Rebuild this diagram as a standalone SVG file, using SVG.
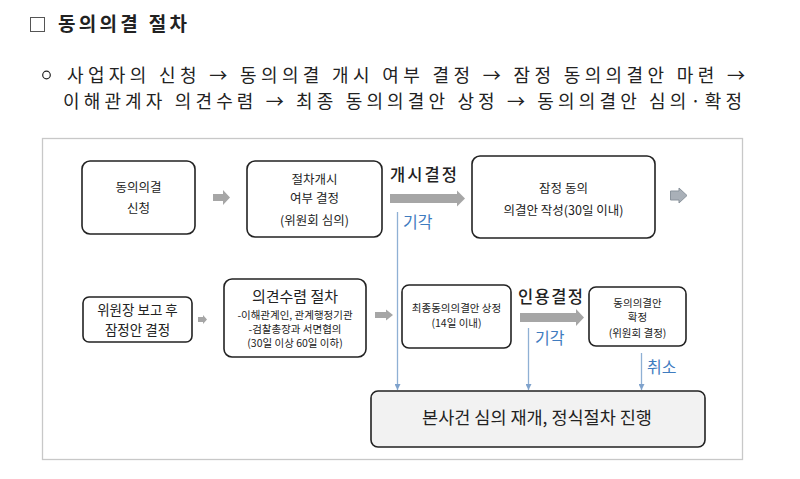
<svg xmlns="http://www.w3.org/2000/svg" width="800" height="479" viewBox="0 0 800 479">
<defs>
<style>
text{font-family:"Noto Sans CJK KR","Noto Sans",sans-serif;fill:#222;}
.node{fill:#fff;stroke:#222;stroke-width:1.6;}
.t13{font-size:12.5px;text-anchor:middle;}
.t11{font-size:10.5px;text-anchor:middle;}
.lbl{font-size:16.5px;font-weight:500;}
.blue{font-size:16px;fill:#3f7cbf;}
.vline{stroke:#8fb0d4;stroke-width:1.3;fill:none;}
.garrow{fill:#a6a6a6;}
</style>
<marker id="ah" viewBox="0 0 10 10" refX="10" refY="5" markerWidth="6" markerHeight="6" orient="auto" markerUnits="userSpaceOnUse">
<path d="M0,0 L10,5 L0,10 z" fill="#7fa2cc"/>
</marker>
</defs>
<rect width="800" height="479" fill="#fff"/>
<g id="header">
<rect x="30.5" y="17.5" width="14" height="14" fill="#fff" stroke="#555" stroke-width="1"/>
<text x="58" y="31" style="font-size:19px;font-weight:bold;" textLength="129" lengthAdjust="spacing">동의의결 절차</text>
<circle cx="46.5" cy="75" r="3.8" fill="none" stroke="#222" stroke-width="1.2"/>
<text x="67" y="82" style="font-size:18px;" textLength="678" lengthAdjust="spacing">사업자의 신청 → 동의의결 개시 여부 결정 → 잠정 동의의결안 마련 →</text>
<text x="63" y="108" style="font-size:18px;" textLength="679" lengthAdjust="spacing">이해관계자 의견수렴 → 최종 동의의결안 상정 → 동의의결안 심의·확정</text>
</g>
<rect id="frame" x="42.5" y="138.5" width="700" height="321" fill="#fff" stroke="#c8c8c8" stroke-width="1.3"/>
<g id="connectors">
<path class="garrow" d="M213,194 L223,194 L223,190 L230,197.5 L223,205 L223,201 L213,201 z"/>
<path class="garrow" d="M390,194 L457,194 L457,190.5 L465,198.5 L457,206.5 L457,203 L390,203 z"/>
<path d="M670.5,191 L679,191 L679,188 L687,195.5 L679,203 L679,200 L670.5,200 z" fill="#a9b0b8" stroke="#8a939c" stroke-width="1"/>
<path class="garrow" d="M198,317 L203,317 L203,315 L207,319.5 L203,324 L203,322 L198,322 z"/>
<path class="garrow" d="M375,312 L386,312 L386,309.5 L393,315 L386,320.5 L386,318 L375,318 z"/>
<path class="garrow" d="M520,313 L576,313 L576,309 L584,317.5 L576,326 L576,322 L520,322 z"/>
<text x="390" y="181" class="lbl" textLength="67" lengthAdjust="spacing">개시결정</text>
<text x="518" y="303" class="lbl" textLength="65" lengthAdjust="spacing">인용결정</text>
<text x="403" y="228" class="blue">기각</text>
<text x="535" y="344" class="blue">기각</text>
<text x="647" y="373" class="blue">취소</text>
<line class="vline" x1="397.5" y1="212" x2="397.5" y2="390" marker-end="url(#ah)"/>
<line class="vline" x1="528.5" y1="328" x2="528.5" y2="390" marker-end="url(#ah)"/>
<line class="vline" x1="641.5" y1="353" x2="641.5" y2="390" marker-end="url(#ah)"/>
</g>
<g id="n1">
<rect class="node" x="82" y="161" width="113" height="73" rx="8"/>
<text x="138.5" y="192" class="t13">동의의결</text>
<text x="138.5" y="213" class="t13">신청</text>
</g>
<g id="n2">
<rect class="node" x="247" y="161" width="135" height="76" rx="8"/>
<text x="314.5" y="184" class="t13">절차개시</text>
<text x="314.5" y="203" class="t13">여부 결정</text>
<text x="314.5" y="225" class="t13">(위원회 심의)</text>
</g>
<g id="n3">
<rect class="node" x="472" y="156" width="183" height="82" rx="8"/>
<text x="563.5" y="193" class="t13">잠정 동의</text>
<text x="563.5" y="215" class="t13">의결안 작성(30일 이내)</text>
</g>
<g id="n4">
<rect class="node" x="83" y="297" width="109" height="45" rx="6"/>
<text x="137.5" y="315" style="font-size:13.5px;text-anchor:middle;">위원장 보고 후</text>
<text x="137.5" y="335" style="font-size:13.5px;text-anchor:middle;">잠정안 결정</text>
</g>
<g id="n5">
<rect class="node" x="224" y="279" width="142" height="78" rx="8"/>
<text x="295" y="302" style="font-size:15px;text-anchor:middle;">의견수렴 절차</text>
<text x="295" y="319" class="t11">-이해관계인, 관계행정기관</text>
<text x="295" y="333" class="t11">-검찰총장과 서면협의</text>
<text x="295" y="347" class="t11">(30일 이상 60일 이하)</text>
</g>
<g id="n6">
<rect class="node" x="402" y="285" width="109" height="63" rx="7"/>
<text x="456.5" y="312" class="t11">최종동의의결안 상정</text>
<text x="456.5" y="327" class="t11">(14일 이내)</text>
</g>
<g id="n7">
<rect class="node" x="589" y="287" width="97" height="59" rx="7"/>
<text x="637.5" y="307" class="t11">동의의결안</text>
<text x="637.5" y="321" class="t11">확정</text>
<text x="637.5" y="337" class="t11">(위원회 결정)</text>
</g>
<g id="n8">
<rect x="371" y="391" width="334" height="56" rx="7" fill="#f2f2f2" stroke="#222" stroke-width="1.6"/>
<text x="537" y="424" style="font-size:17.5px;text-anchor:middle;">본사건 심의 재개, 정식절차 진행</text>
</g>
</svg>
